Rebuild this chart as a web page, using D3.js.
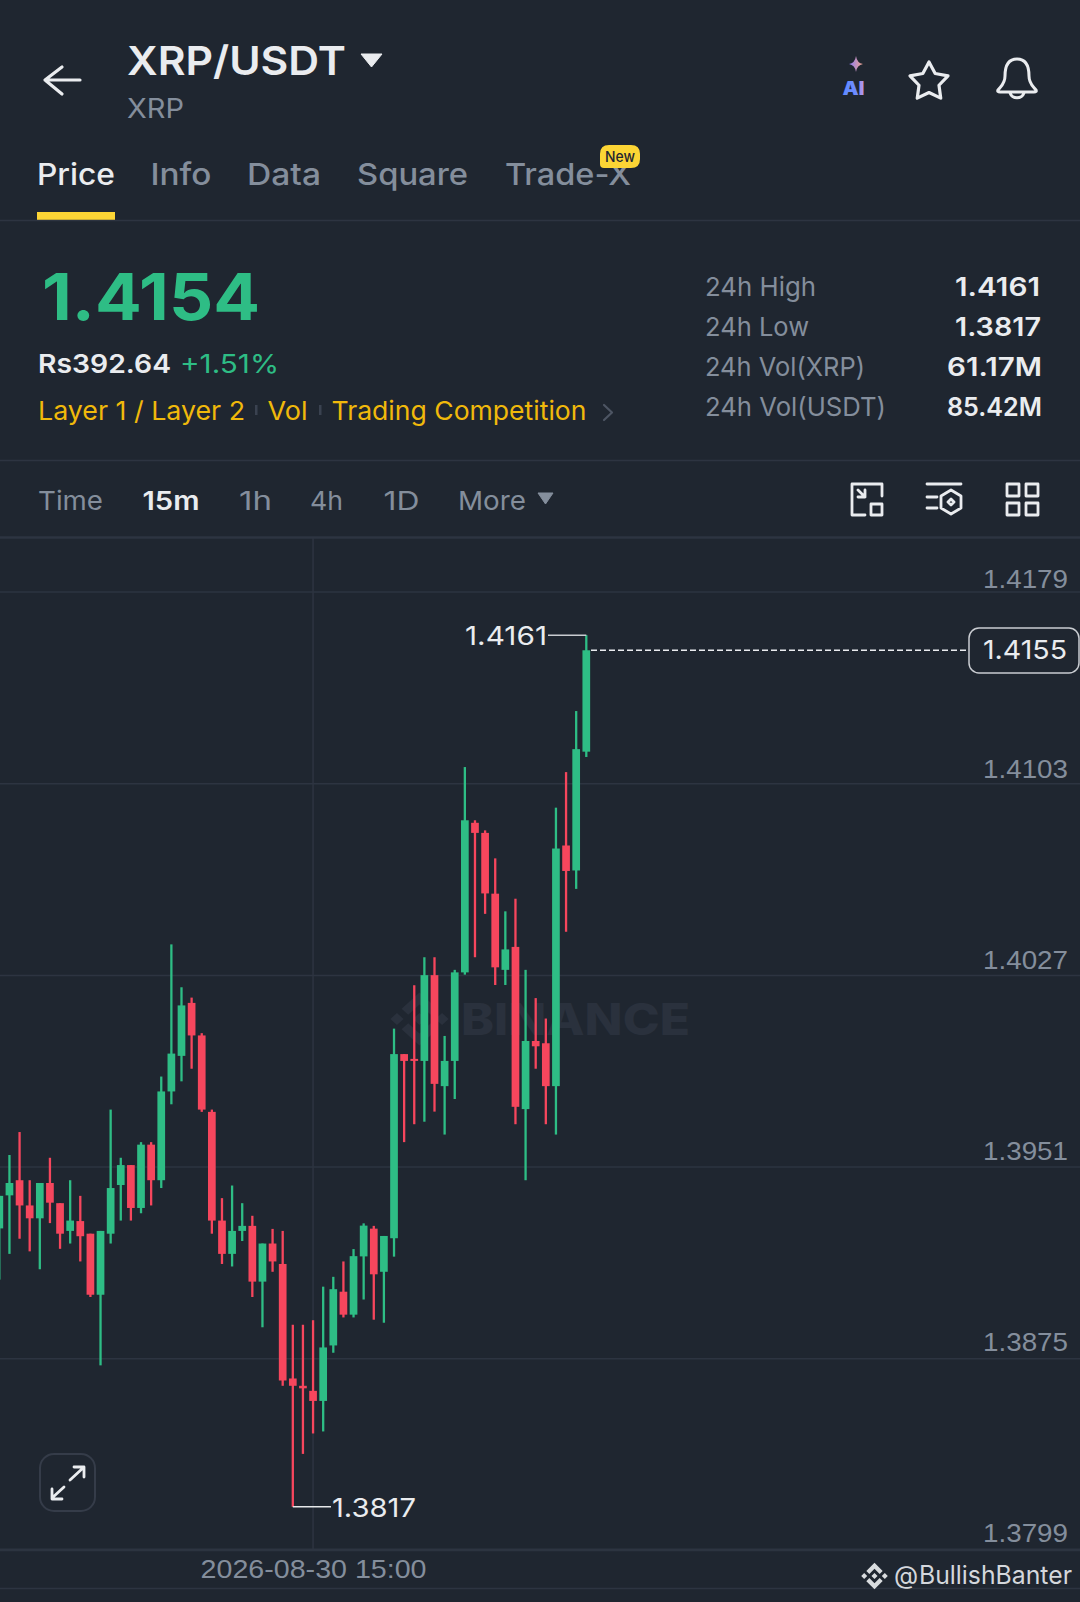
<!DOCTYPE html>
<html>
<head>
<meta charset="utf-8">
<script src="https://cdnjs.cloudflare.com/ajax/libs/d3/7.8.5/d3.min.js"></script>
<style>
  html, body { margin: 0; padding: 0; background: #1f2630; }
  svg { display: block; font-family: Inter, Lato, sans-serif; }
</style>
</head>
<body>
<script>
// candles, oldest first
var opens = [1.39265,1.39396,1.39456,1.39356,1.39305,1.39445,1.39365,1.39255,1.39294,1.39244,
  1.39002,1.39244,1.39437,1.39516,1.39346,1.39597,1.39456,1.39808,1.39949,1.40159,
  1.40030,1.39727,1.39296,1.39164,1.39255,1.39275,1.39054,1.39205,1.39124,1.38670,
  1.38641,1.38621,1.38581,1.38801,1.39014,1.38923,1.39154,1.39264,1.39093,1.39226,
  1.39956,1.39937,1.39929,1.40269,1.39829,1.39929,1.40280,1.40873,1.40833,1.40592,
  1.40290,1.40381,1.39738,1.40008,1.39999,1.39829,1.40783,1.40684,1.41155];
var highs = [1.39394,1.39556,1.39647,1.39456,1.39445,1.39545,1.39365,1.39456,1.39394,1.39244,
  1.39255,1.39736,1.39545,1.39516,1.39607,1.39607,1.39867,1.40391,1.40221,1.40180,
  1.40039,1.39736,1.39385,1.39435,1.39365,1.39315,1.39205,1.39263,1.39255,1.38883,
  1.38883,1.38901,1.39034,1.39073,1.39134,1.39183,1.39285,1.39275,1.39235,1.40057,
  1.39956,1.40229,1.40340,1.40340,1.40028,1.40290,1.41094,1.40883,1.40843,1.40732,
  1.40522,1.40572,1.40290,1.40178,1.40097,1.40933,1.41074,1.41316,1.41617];
var lows = [1.39062,1.39164,1.39224,1.39174,1.39103,1.39286,1.39184,1.39205,1.39134,1.38993,
  1.38722,1.39205,1.39296,1.39296,1.39325,1.39356,1.39425,1.39757,1.39848,1.39898,
  1.39727,1.39244,1.39124,1.39114,1.39215,1.38993,1.38873,1.39093,1.38641,1.38161,
  1.38371,1.38452,1.38460,1.38772,1.38912,1.38912,1.38983,1.38903,1.38891,1.39153,
  1.39607,1.39678,1.39688,1.39728,1.39637,1.39778,1.40271,1.40340,1.40512,1.40230,
  1.40230,1.39678,1.39456,1.39898,1.39678,1.39637,1.40441,1.40611,1.41134];
var closes = [1.39394,1.39445,1.39356,1.39305,1.39445,1.39367,1.39244,1.39296,1.39234,1.39002,
  1.39255,1.39425,1.39516,1.39346,1.39597,1.39456,1.39808,1.39958,1.40149,1.40030,
  1.39736,1.39296,1.39164,1.39255,1.39275,1.39054,1.39205,1.39134,1.38662,1.38641,
  1.38631,1.38581,1.38793,1.39024,1.38923,1.39155,1.39276,1.39083,1.39235,1.39956,
  1.39929,1.39929,1.40269,1.39838,1.39929,1.40280,1.40883,1.40833,1.40593,1.40300,
  1.40371,1.39747,1.40008,1.39987,1.39829,1.40771,1.40682,1.41165,1.41557];

var priceTicks = [1.4179, 1.4103, 1.4027, 1.3951, 1.3875, 1.3799];
var timeTickIndex = [31];
var timeTickLabels = ['2026-08-30 15:00'];
var lastPrice = 1.41557, lastPriceLabel = '1.4155';
var highLabel = '1.4161', lowLabel = '1.3817';

var tabs = ['Price', 'Info', 'Data', 'Square', 'Trade-X'];
var intervals = ['Time', '15m', '1h', '4h', '1D', 'More'];
var tags = ['Layer 1 / Layer 2', 'Vol', 'Trading Competition'];
var statNames = ['24h High', '24h Low', '24h Vol(XRP)', '24h Vol(USDT)'];
var statValues = ['1.4161', '1.3817', '61.17M', '85.42M'];

var BG = '#1f2630', GREEN = '#2ebd85', RED = '#f6465d', WHITE = '#eaecef',
    GREY = '#848e9c', LINE = '#2d3441', YELLOW = '#fcd535', GOLD = '#f0b90b';

var svg = d3.select('body').append('svg')
    .attr('width', 1080)
    .attr('height', 1602);

svg.append('rect').attr('width', 1080).attr('height', 1602).attr('fill', BG);

var defs = svg.append('defs');
var aiGrad = defs.append('linearGradient').attr('id', 'aiGrad');
aiGrad.append('stop').attr('offset', '0%').attr('stop-color', '#5f8bff');
aiGrad.append('stop').attr('offset', '65%').attr('stop-color', '#6f8bff');
aiGrad.append('stop').attr('offset', '100%').attr('stop-color', '#c79ae0');
var sparkGrad = defs.append('linearGradient').attr('id', 'sparkGrad');
sparkGrad.append('stop').attr('offset', '0%').attr('stop-color', '#8f7bf5');
sparkGrad.append('stop').attr('offset', '100%').attr('stop-color', '#f0a58c');

function label(txt, x, y, size, color, weight, anchor) {
  return svg.append('text')
      .attr('x', x).attr('y', y)
      .attr('font-size', size)
      .attr('fill', color)
      .attr('font-weight', weight || 400)
      .attr('text-anchor', anchor || 'start')
      .text(txt);
}

// Inter runs narrower than the app font, stretch to the measured width
function fit(sel, w) {
  return sel.attr('textLength', w).attr('lengthAdjust', 'spacingAndGlyphs');
}

function hline(x1, x2, y, color, w) {
  svg.append('line').attr('x1', x1).attr('x2', x2).attr('y1', y).attr('y2', y)
      .attr('stroke', color).attr('stroke-width', w || 1.5);
}

function icon(d, w, color) {
  return svg.append('path').attr('d', d).attr('fill', 'none')
      .attr('stroke', color || WHITE).attr('stroke-width', w || 3)
      .attr('stroke-linecap', 'round').attr('stroke-linejoin', 'round');
}

var LOGO = 'M38.73 53.2L63.31 28.63l24.59 24.59 14.3-14.3L63.31 0 24.43 38.9zM0 63.31l14.3-14.3 14.3 14.3-14.3 14.3zM38.73 73.41l24.58 24.57 24.59-24.57 14.31 14.29-38.9 38.91-38.9-38.88zM98.01 63.31l14.3-14.3 14.3 14.3-14.3 14.3zM77.83 63.3L63.31 48.78 48.79 63.3l14.52 14.52z';
function logo(cx, cy, sx, sy, color) {
  svg.append('path').attr('d', LOGO).attr('fill', color)
      .attr('transform', 'translate(' + cx + ',' + cy + ') scale(' + sx + ',' + sy + ') translate(-63.3,-63.3)');
}

// header
icon('M62,67 L45,80 L62,94 M45,80 L80,80', 3.2);
fit(label('XRP/USDT', 127, 75, 40, WHITE, 600), 219);
svg.append('path').attr('d', 'M361,54 L382,54 L371.5,67 Z').attr('fill', WHITE).attr('stroke', WHITE).attr('stroke-linejoin', 'round');
fit(label('XRP', 127, 118, 27, GREY), 57);

svg.append('path').attr('d', 'M856,56 Q857,63 863,64 Q857,65 856,72 Q855,65 849,64 Q855,63 856,56 Z').attr('fill', 'url(#sparkGrad)');
fit(label('AI', 853.5, 95, 19, 'url(#aiGrad)', 900, 'middle'), 22);
var starPts = d3.range(10).map(function(i) { return [i * Math.PI / 5, i % 2 ? 10.5 : 20]; });
svg.append('path').attr('d', d3.lineRadial().curve(d3.curveLinearClosed)(starPts))
    .attr('transform', 'translate(929,82)').attr('fill', 'none').attr('stroke', WHITE)
    .attr('stroke-width', 3.2).attr('stroke-linejoin', 'round');
icon('M1005,76 C1005,64 1010,59 1017,59 C1024,59 1029,64 1029,76 C1029,84 1033,86 1036,90 Q1037,92 1034,92 L1000,92 Q997,92 998,90 C1001,86 1005,84 1005,76 Z M1010,93 A7.5,7.5 0 0 0 1024,93');

// tabs
var tabX = [37, 150.5, 247, 357, 505];
var tabW = [78, 61, 74, 111, 126];
tabs.forEach(function(t, i) {
  fit(label(t, tabX[i], 185, 30, i === 0 ? WHITE : GREY, 500), tabW[i]);
});
svg.append('rect').attr('x', 37).attr('y', 212).attr('width', 78).attr('height', 8).attr('fill', YELLOW);
hline(0, 1080, 220.5, LINE);
svg.append('path').attr('d', 'M609,145 L631,145 Q640,145 640,154 L640,159 Q640,168 631,168 L604,168 Q600,168 600,164 L600,154 Q600,145 609,145 Z').attr('fill', YELLOW);
fit(label('New', 620, 162, 15, '#1f2630', 500, 'middle'), 30);

// price block
fit(label('1.4154', 42, 320, 65, GREEN, 700), 218);
fit(label('Rs392.64', 38, 373, 26, WHITE, 600), 133);
fit(label('+1.51%', 180, 373, 26, GREEN, 400), 99);
var tagX = [38, 267.5, 331.5];
var tagW = [207, 40, 255];
tags.forEach(function(t, i) { fit(label(t, tagX[i], 420, 26, GOLD, 400), tagW[i]); });
svg.append('rect').attr('x', 255).attr('y', 405).attr('width', 2.5).attr('height', 10).attr('fill', '#3a4250');
svg.append('rect').attr('x', 319).attr('y', 405).attr('width', 2.5).attr('height', 10).attr('fill', '#3a4250');
icon('M604,405 L612,412.5 L604,420', 2.2, '#4d5563');

var statY = [296, 336, 376, 416];
var statNameW = [111, 104, 160, 181];
var statValueW = [85, 86, 95, 95];
var statRight = [1040, 1041, 1042, 1042];
statNames.forEach(function(s, i) {
  fit(label(s, 705, statY[i], 26, GREY), statNameW[i]);
  fit(label(statValues[i], statRight[i], statY[i], 26, WHITE, 600, 'end'), statValueW[i]);
});

// interval bar
hline(0, 1080, 460.5, LINE);
var intervalX = [38, 142.5, 239, 310, 383.5, 458];
var intervalW = [65, 57, 33, 33, 36, 68];
intervals.forEach(function(t, i) {
  fit(label(t, intervalX[i], 510, 26, i === 1 ? WHITE : GREY, i === 1 ? 600 : 400), intervalW[i]);
});
svg.append('path').attr('d', 'M538,493 L553,493 L545.5,504 Z').attr('fill', GREY).attr('stroke', GREY).attr('stroke-linejoin', 'round');

icon('M865,515 L852,515 L852,484 L882,484 L882,496 M858,490 L865,497 M865,490 L865,497 L858,497 M871,504 L882,504 L882,515 L871,515 Z', 2.8);
icon('M927,484 L961,484 M927,497 L937,497 M927,508 L937,508 M951,490 L961,496 L961,508 L951,514 L941,508 L941,496 Z M951,499 L954,502 L951,505 L948,502 Z', 2.8);
icon('M1007,484 h12 v12 h-12 Z M1026,484 h12 v12 h-12 Z M1007,503 h12 v12 h-12 Z M1026,503 h12 v12 h-12 Z', 2.8);
hline(0, 1080, 537.5, LINE, 2.5);

// chart
var y = d3.scaleLinear().domain([1.3799, 1.4179]).range([1550, 591.5]);
var x = d3.scaleLinear().domain([0, 58]).range([-0.67, 586.3]);

svg.append('line').attr('x1', x(31)).attr('x2', x(31)).attr('y1', 538).attr('y2', 1550)
    .attr('stroke', LINE).attr('stroke-width', 1.5);

var yAxis = d3.axisRight(y)
    .tickValues(priceTicks)
    .tickFormat(d3.format('.4f'))
    .tickSize(1080)
    .tickPadding(-12);
var yG = svg.append('g').call(yAxis);
yG.select('.domain').remove();
yG.selectAll('line').attr('stroke', LINE).attr('stroke-width', 1.5);
fit(yG.selectAll('text'), 85)
    .attr('text-anchor', 'end')
    .attr('dy', function(d, i) { return -4.5 - i * 0.85; })
    .attr('font-family', 'inherit')
    .attr('font-size', 26)
    .attr('fill', GREY);

// faint exchange mark behind the candles
logo(419.5, 1019, 0.46, 0.42, '#2a313d');
fit(label('BINANCE', 461, 1035, 44, '#2a313d', 800), 229);

var candles = svg.append('g').selectAll('g').data(opens).join('g')
    .attr('fill', function(d, i) { return closes[i] >= opens[i] ? GREEN : RED; });
candles.append('rect')
    .attr('x', function(d, i) { return x(i) - 1.15; })
    .attr('width', 2.3)
    .attr('y', function(d, i) { return y(highs[i]); })
    .attr('height', function(d, i) { return y(lows[i]) - y(highs[i]); });
candles.append('rect')
    .attr('x', function(d, i) { return x(i) - 3.85; })
    .attr('width', 7.7)
    .attr('y', function(d, i) { return y(Math.max(opens[i], closes[i])); })
    .attr('height', function(d, i) { return Math.abs(y(opens[i]) - y(closes[i])); });

// high / low callouts
var hi = d3.max(highs), lo = d3.min(lows);
hline(548, x(highs.indexOf(hi)), y(hi), '#c9ccd1');
fit(label(highLabel, 465, y(hi) + 9.5, 26, WHITE), 82);
hline(x(lows.indexOf(lo)), 331, y(lo), '#e6e8ea');
fit(label(lowLabel, 332, y(lo) + 10, 26, WHITE), 84);

// last price
svg.append('line').attr('x1', 591).attr('x2', 966).attr('y1', y(lastPrice)).attr('y2', y(lastPrice))
    .attr('stroke', WHITE).attr('stroke-width', 1.5).attr('stroke-dasharray', '6 3');
svg.append('rect').attr('x', 969).attr('y', 628).attr('width', 110).attr('height', 45).attr('rx', 10)
    .attr('fill', BG).attr('stroke', '#c9ccd1').attr('stroke-width', 1.5);
fit(label(lastPriceLabel, 1025, 659, 26, WHITE, 400, 'middle'), 84);

// expand button
svg.append('rect').attr('x', 40).attr('y', 1454).attr('width', 55).attr('height', 57).attr('rx', 14)
    .attr('fill', 'none').attr('stroke', '#353c49').attr('stroke-width', 2);
icon('M70,1480 L83,1468 M74,1467 L84,1467 L84,1477 M64,1487 L52,1498 M52,1489 L52,1499 L62,1499', 2.8);

// time axis + footer
var xAxis = d3.axisBottom(x)
    .tickValues(timeTickIndex)
    .tickFormat(function(d, i) { return timeTickLabels[i]; })
    .tickSize(0)
    .tickPadding(10);
var xG = svg.append('g').attr('transform', 'translate(0,1550)').call(xAxis);
xG.select('.domain').remove();
fit(xG.selectAll('text'), 226).attr('font-family', 'inherit').attr('font-size', 26).attr('fill', GREY);
hline(0, 1080, 1549.5, LINE, 2);
hline(0, 1080, 1588.5, LINE);

logo(874.5, 1576, 0.21, 0.21, '#d9dcdf');
label('@', 894, 1584, 25, '#d4d7dc');
fit(label('BullishBanter', 919, 1584, 25, '#d4d7dc'), 153);
</script>
</body>
</html>
